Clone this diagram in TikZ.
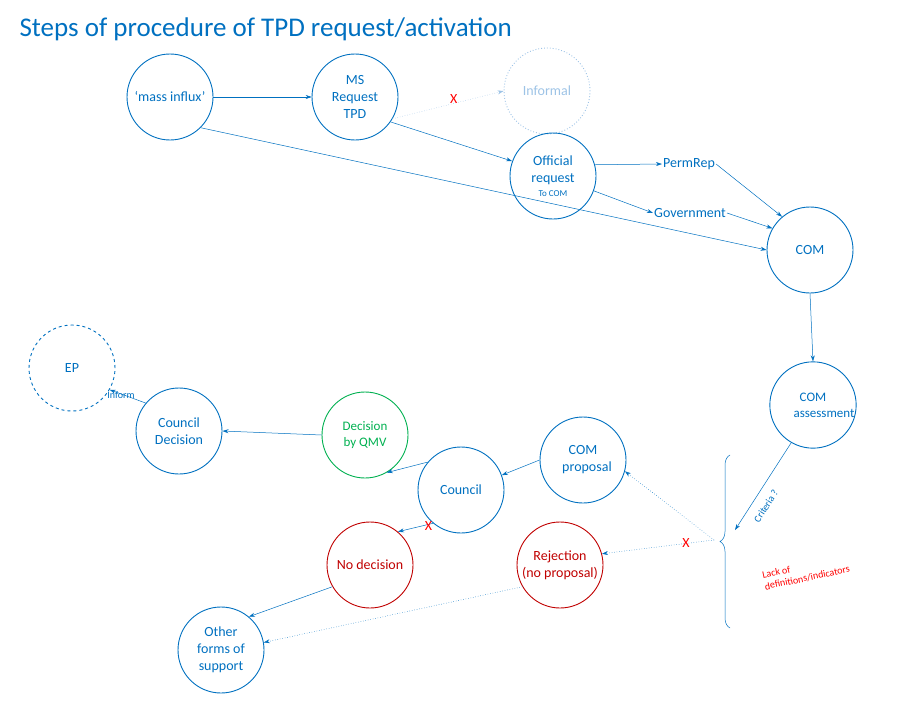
\documentclass[tikz,border=0pt]{standalone}
\usepackage{fontspec}
\setmainfont{Carlito}
\usetikzlibrary{arrows.meta,decorations.pathreplacing}
\definecolor{bl}{HTML}{0070C0}
\definecolor{lb}{HTML}{9DC3E6}
\definecolor{rd}{HTML}{C00000}
\definecolor{gr}{HTML}{00B050}
\begin{document}
\begin{tikzpicture}[x=1pt,y=-1pt,
 c/.style={circle,draw=bl,line width=0.9pt,minimum size=86pt,inner sep=0pt,align=center,text=bl,font=\fontsize{14}{17}\selectfont},
 t/.style={text=bl,font=\fontsize{14}{17}\selectfont,inner sep=1pt},
 a/.style={draw=bl,-{Stealth[length=6pt,width=4pt]},line width=0.5pt},
 d/.style={a,dotted},
 xm/.style={text=red,font=\fontsize{14}{17}\selectfont,inner sep=0pt}]
\useasboundingbox (0,0) rectangle (898,704);
\node[anchor=west,text=bl,font=\fontsize{27}{32}\selectfont] (title) at (16,29) {Steps of procedure of TPD request/activation};
\node[c] (mi) at (170,97) {‘mass influx’};
\node[c] (ms) at (355,97) {MS\\Request\\TPD};
\node[c,draw=lb,dotted,text=lb] (inf) at (547,91) {Informal};
\node[c] (off) at (553,176) {Official\\request\\[-3pt]{\fontsize{9}{10}\selectfont To COM}};
\node[c] (com) at (810,250) {COM};
\node[c,font=\fontsize{13}{16}\selectfont] (ca) at (813,405) {COM\\\hspace*{22pt}assessment};
\node[c] (cp) at (583,460) {COM\\\hspace*{8pt}proposal};
\node[c] (cn) at (461,490) {Council};
\node[c,draw=gr,text=gr,font=\fontsize{13}{16}\selectfont] (qmv) at (365,435) {Decision\\by QMV};
\node[c] (cd) at (179,431) {Council\\Decision};
\node[c,dashed] (ep) at (72,368) {EP};
\node[c,draw=rd,text=rd] (nd) at (370,565) {No decision};
\node[c,draw=rd,text=rd] (rj) at (560,565) {Rejection\\(no proposal)};
\node[c] (ot) at (221,650) {Other\\forms of\\support};
\node[t] (pr) at (689,164) {PermRep};
\node[t] (gv) at (690,213) {Government};
\draw[bl,line width=0.5pt,decorate,decoration={brace,amplitude=10pt,aspect=0.5}] (730,628) -- (730,455);
\coordinate (br) at (714,540);
\coordinate (brT) at (735,530);
\node[text=red,rotate=12,font=\fontsize{10}{12}\selectfont,align=left] (lk) at (806,572) {Lack of\\definitions/indicators};
\node[text=bl,rotate=58,font=\fontsize{10}{12}\selectfont] (cr) at (766,506) {Criteria ?};
\draw[a] (mi.east) -- (ms.west);
\draw[a] (mi.-45) -- (com.west);
\draw[a,draw=lb,dotted] (ms.-30) -- node[xm,pos=0.55,above]{X} (inf.west);
\draw[a] (ms.-35) -- (off.160);
\draw[a] (off.15) -- (pr.west);
\draw[a] (off.-20) -- (gv.west);
\draw[a] (pr.east) -- (com.130);
\draw[a] (gv.east) -- (com.150);
\draw[a] (com.south) -- (ca.north);
\draw[a] (ca.-120) -- (brT);
\draw[d] (br) -- (cp.-15);
\draw[d] (br) -- node[xm,pos=0.25]{X} (rj.15);
\draw[a] (cp.west) -- (cn.20);
\draw[a] (cn.140) -- (qmv.-60);
\draw[a] (qmv.west) -- (cd.east);
\draw[a] (cd.140) -- node[t,above left=-1pt,font=\fontsize{10}{12}\selectfont,pos=0.3]{Inform} (ep.-30);
\draw[a] (cn.-130) -- node[xm,pos=0.3,right=2pt]{X} (nd.50);
\draw[a] (nd.-150) -- (ot.50);
\draw[d] (rj.-150) -- (ot.10);
\end{tikzpicture}
\end{document}
